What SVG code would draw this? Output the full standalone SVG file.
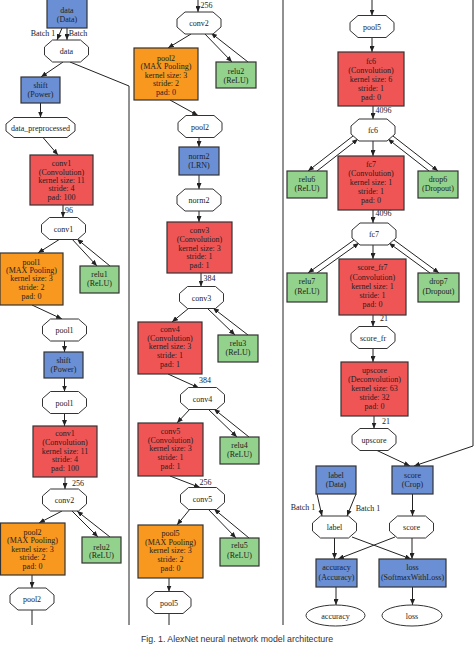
<svg xmlns="http://www.w3.org/2000/svg" xmlns:xlink="http://www.w3.org/1999/xlink" width="474" height="645" viewBox="0 0 474 645">
<style>
.t{font-family:"Liberation Serif","Times New Roman",serif;font-size:8px;fill:#222;text-anchor:middle}
.cap{font-family:"Liberation Sans",Arial,sans-serif;font-size:8.8px;fill:#333;text-anchor:middle}
.box{stroke:#333;stroke-width:1.2}
.conv{fill:#f05555}
.pool{fill:#f8981f}
.relu{fill:#93d28c}
.blue{fill:#6a8fd4}
.blob{fill:#fff;stroke:#333;stroke-width:1}
.e{fill:none;stroke:#222;stroke-width:1}
.a{marker-end:url(#arr)}
</style>
<defs>
<marker id="arr" markerUnits="userSpaceOnUse" markerWidth="6" markerHeight="5" refX="6" refY="2.5" orient="auto"><path d="M0,0 L6,2.5 L0,5 z" fill="#222"/></marker>
<polygon id="oct" points="-14,-11 14,-11 22,-4 22,4 14,11 -14,11 -22,4 -22,-4"/>
</defs>
<rect width="474" height="645" fill="#fff"/>

<g id="connectors">
<line class="e a" x1="62" y1="28" x2="57" y2="40"/>
<line class="e a" x1="67" y1="28" x2="67" y2="40"/>
<text class="t" x="43" y="36">Batch 1</text>
<text class="t" x="78" y="36">Batch</text>
<line class="e a" x1="63" y1="62" x2="41" y2="77"/>
<polyline class="e" points="70,62 129,86 129,625"/>
<line class="e a" x1="40.5" y1="103" x2="40.5" y2="117.5"/>
<line class="e a" x1="43" y1="137.5" x2="58" y2="155"/>
<line class="e a" x1="63" y1="205" x2="63" y2="217.5"/>
<text class="t" x="69" y="213">96</text>
<line class="e a" x1="60" y1="239" x2="38" y2="253"/>
<line class="e a" x1="71" y1="238" x2="97" y2="266"/>
<line class="e a" x1="110" y1="266" x2="77" y2="239"/>
<line class="e a" x1="32" y1="305" x2="62" y2="319"/>
<line class="e a" x1="64.5" y1="341" x2="64.5" y2="352"/>
<line class="e a" x1="64.5" y1="378" x2="64.5" y2="391.5"/>
<line class="e a" x1="64.5" y1="413.5" x2="64.5" y2="426"/>
<line class="e a" x1="65" y1="477" x2="65" y2="489"/>
<text class="t" x="78" y="486">256</text>
<line class="e a" x1="62" y1="511" x2="39" y2="523"/>
<line class="e a" x1="71" y1="510" x2="98" y2="537"/>
<line class="e a" x1="110" y1="537" x2="77" y2="511"/>
<line class="e a" x1="32" y1="575" x2="32" y2="588"/>
<line class="e" x1="32" y1="610" x2="32" y2="625"/>

<line class="e a" x1="198" y1="0" x2="198" y2="12"/>
<text class="t" x="206.5" y="8">256</text>
<line class="e a" x1="191" y1="34" x2="168" y2="48"/>
<line class="e a" x1="204" y1="33" x2="232" y2="62"/>
<line class="e a" x1="248" y1="62" x2="211" y2="33"/>
<line class="e a" x1="170" y1="100" x2="198" y2="115.5"/>
<line class="e a" x1="199" y1="137.5" x2="199" y2="147"/>
<line class="e a" x1="199" y1="175" x2="199" y2="189"/>
<line class="e a" x1="199" y1="211" x2="199" y2="222"/>
<line class="e a" x1="201" y1="273" x2="201" y2="286.5"/>
<text class="t" x="209.5" y="281">384</text>
<line class="e a" x1="189" y1="308" x2="172" y2="322"/>
<line class="e a" x1="207" y1="308" x2="235" y2="335"/>
<line class="e a" x1="248" y1="335" x2="213" y2="308"/>
<line class="e a" x1="168" y1="374" x2="199" y2="388"/>
<text class="t" x="205" y="383">384</text>
<line class="e a" x1="190" y1="409" x2="177" y2="423"/>
<line class="e a" x1="208" y1="409" x2="237" y2="437"/>
<line class="e a" x1="249" y1="437" x2="214" y2="409"/>
<line class="e a" x1="170" y1="476" x2="200" y2="487.5"/>
<text class="t" x="205.5" y="485">256</text>
<line class="e a" x1="190" y1="509" x2="177" y2="525"/>
<line class="e a" x1="208" y1="509" x2="236" y2="538"/>
<line class="e a" x1="249" y1="538" x2="214" y2="509"/>
<line class="e a" x1="169" y1="578" x2="169" y2="591.5"/>
<line class="e" x1="169" y1="613.5" x2="169" y2="625"/>
<line class="e" x1="283" y1="0" x2="283" y2="625"/>

<line class="e a" x1="372" y1="0" x2="372" y2="15.5"/>
<line class="e a" x1="372" y1="37.5" x2="372" y2="52"/>
<line class="e a" x1="373" y1="106" x2="373" y2="119"/>
<text class="t" x="383.5" y="113">4096</text>
<line class="e a" x1="373" y1="141" x2="373" y2="156"/>
<line class="e a" x1="353" y1="136" x2="308" y2="171"/>
<line class="e a" x1="317" y1="171" x2="358" y2="139"/>
<line class="e a" x1="393" y1="136" x2="438" y2="171"/>
<line class="e a" x1="429" y1="171" x2="388" y2="139"/>
<line class="e a" x1="373" y1="210" x2="373" y2="223"/>
<text class="t" x="383.5" y="216">4096</text>
<line class="e a" x1="373" y1="245" x2="373" y2="259"/>
<line class="e a" x1="354" y1="240" x2="308" y2="273"/>
<line class="e a" x1="317" y1="273" x2="359" y2="243"/>
<line class="e a" x1="394" y1="240" x2="439" y2="273"/>
<line class="e a" x1="430" y1="273" x2="389" y2="243"/>
<line class="e a" x1="373" y1="315" x2="373" y2="326.5"/>
<text class="t" x="384" y="321">21</text>
<line class="e a" x1="373" y1="348.5" x2="373" y2="362"/>
<line class="e a" x1="374" y1="416" x2="374" y2="428.5"/>
<text class="t" x="386" y="424">21</text>
<line class="e a" x1="376" y1="450" x2="410" y2="466"/>
<polyline class="e a" points="473,0 473,446 414,466"/>
<line class="e a" x1="317" y1="494" x2="322" y2="516"/>
<line class="e a" x1="356" y1="494" x2="347" y2="516"/>
<text class="t" x="303" y="510">Batch 1</text>
<text class="t" x="368" y="511">Batch 1</text>
<line class="e a" x1="412.5" y1="494" x2="412.5" y2="516"/>
<line class="e a" x1="334.5" y1="538" x2="334.5" y2="559"/>
<line class="e a" x1="352" y1="537" x2="411" y2="559"/>
<line class="e a" x1="395" y1="537" x2="338" y2="559"/>
<line class="e a" x1="412" y1="538" x2="412" y2="559"/>
<line class="e a" x1="336" y1="587" x2="336" y2="605"/>
<line class="e a" x1="412.5" y1="587" x2="412.5" y2="605"/>
</g>

<g id="data_layer"><rect class="box blue" x="47" y="-1" width="40" height="29"/><text class="t" x="67" y="13">data</text><text class="t" x="67" y="22">(Data)</text></g>
<g id="data_blob"><use xlink:href="#oct" class="blob" x="66.5" y="51"/><text class="t" x="66.5" y="54">data</text></g>
<g id="shift1"><rect class="box blue" x="21" y="77" width="39" height="26"/><text class="t" x="40.5" y="88">shift</text><text class="t" x="40.5" y="97">(Power)</text></g>
<g id="data_preprocessed"><polygon class="blob" points="14,117.5 67,117.5 75,124 75,131 67,137.5 14,137.5 6,131 6,124"/><text class="t" x="40.5" y="130.5">data_preprocessed</text></g>
<g id="conv1a"><rect class="box conv" x="30" y="155" width="63" height="50"/><text class="t" x="61.5" y="166">conv1</text><text class="t" x="61.5" y="175">(Convolution)</text><text class="t" x="61.5" y="183">kernel size: 11</text><text class="t" x="61.5" y="191">stride: 4</text><text class="t" x="61.5" y="200">pad: 100</text></g>
<g id="conv1a_blob"><use xlink:href="#oct" class="blob" x="63.5" y="228.5"/><text class="t" x="63.5" y="231.5">conv1</text></g>
<g id="pool1a"><rect class="box pool" x="0" y="253" width="63" height="52"/><text class="t" x="31.5" y="265">pool1</text><text class="t" x="31.5" y="273">(MAX Pooling)</text><text class="t" x="31.5" y="281">kernel size: 3</text><text class="t" x="31.5" y="290">stride: 2</text><text class="t" x="31.5" y="299">pad: 0</text></g>
<g id="relu1"><rect class="box relu" x="80" y="266" width="39" height="27"/><text class="t" x="99.5" y="276.5">relu1</text><text class="t" x="99.5" y="286">(ReLU)</text></g>
<g id="pool1a_blob"><use xlink:href="#oct" class="blob" x="64.5" y="330"/><text class="t" x="64.5" y="333">pool1</text></g>
<g id="shift2"><rect class="box blue" x="44" y="352" width="39" height="26"/><text class="t" x="63.5" y="363">shift</text><text class="t" x="63.5" y="372">(Power)</text></g>
<g id="pool1b_blob"><use xlink:href="#oct" class="blob" x="64.5" y="402.5"/><text class="t" x="64.5" y="405.5">pool1</text></g>
<g id="conv1b"><rect class="box conv" x="33" y="426" width="64" height="51"/><text class="t" x="65" y="436">conv1</text><text class="t" x="65" y="445">(Convolution)</text><text class="t" x="65" y="454">kernel size: 11</text><text class="t" x="65" y="462">stride: 4</text><text class="t" x="65" y="471">pad: 100</text></g>
<g id="conv2a_blob"><use xlink:href="#oct" class="blob" x="64.5" y="500"/><text class="t" x="64.5" y="503">conv2</text></g>
<g id="pool2a"><rect class="box pool" x="0.5" y="523" width="64.5" height="52"/><text class="t" x="32.5" y="535">pool2</text><text class="t" x="32.5" y="543">(MAX Pooling)</text><text class="t" x="32.5" y="552">kernel size: 3</text><text class="t" x="32.5" y="560">stride: 2</text><text class="t" x="32.5" y="569">pad: 0</text></g>
<g id="relu2a"><rect class="box relu" x="82" y="537" width="39" height="26"/><text class="t" x="101.5" y="550">relu2</text><text class="t" x="101.5" y="558">(ReLU)</text></g>
<g id="pool2a_blob"><use xlink:href="#oct" class="blob" x="32" y="599"/><text class="t" x="32" y="602">pool2</text></g>

<g id="conv2b_blob"><use xlink:href="#oct" class="blob" x="199" y="23"/><text class="t" x="199" y="26">conv2</text></g>
<g id="pool2b"><rect class="box pool" x="134" y="48" width="64" height="52"/><text class="t" x="166" y="61">pool2</text><text class="t" x="166" y="69">(MAX Pooling)</text><text class="t" x="166" y="78">kernel size: 3</text><text class="t" x="166" y="86">stride: 2</text><text class="t" x="166" y="95">pad: 0</text></g>
<g id="relu2b"><rect class="box relu" x="216" y="62" width="40" height="26"/><text class="t" x="236" y="74">relu2</text><text class="t" x="236" y="83">(ReLU)</text></g>
<g id="pool2b_blob"><use xlink:href="#oct" class="blob" x="200" y="126.5"/><text class="t" x="200" y="129.5">pool2</text></g>
<g id="norm2"><rect class="box blue" x="179" y="147" width="40" height="28"/><text class="t" x="199" y="159">norm2</text><text class="t" x="199" y="168">(LRN)</text></g>
<g id="norm2_blob"><use xlink:href="#oct" class="blob" x="199" y="200"/><text class="t" x="199" y="203">norm2</text></g>
<g id="conv3"><rect class="box conv" x="167" y="222" width="65" height="51"/><text class="t" x="199.5" y="233">conv3</text><text class="t" x="199.5" y="242">(Convolution)</text><text class="t" x="199.5" y="251">kernel size: 3</text><text class="t" x="199.5" y="259">stride: 1</text><text class="t" x="199.5" y="268">pad: 1</text></g>
<g id="conv3_blob"><use xlink:href="#oct" class="blob" x="201.5" y="297.5"/><text class="t" x="201.5" y="300.5">conv3</text></g>
<g id="relu3"><rect class="box relu" x="218" y="335" width="40" height="27"/><text class="t" x="238" y="346">relu3</text><text class="t" x="238" y="355">(ReLU)</text></g>
<g id="conv4"><rect class="box conv" x="138" y="322" width="64" height="52"/><text class="t" x="170" y="332">conv4</text><text class="t" x="170" y="341">(Convolution)</text><text class="t" x="170" y="349">kernel size: 3</text><text class="t" x="170" y="358">stride: 1</text><text class="t" x="170" y="367">pad: 1</text></g>
<g id="conv4_blob"><use xlink:href="#oct" class="blob" x="202.5" y="398.5"/><text class="t" x="202.5" y="401.5">conv4</text></g>
<g id="relu4"><rect class="box relu" x="220" y="437" width="39" height="27"/><text class="t" x="239.5" y="448">relu4</text><text class="t" x="239.5" y="457">(ReLU)</text></g>
<g id="conv5"><rect class="box conv" x="138" y="423" width="65" height="53"/><text class="t" x="170.5" y="434">conv5</text><text class="t" x="170.5" y="443">(Convolution)</text><text class="t" x="170.5" y="451">kernel size: 3</text><text class="t" x="170.5" y="460">stride: 1</text><text class="t" x="170.5" y="469">pad: 1</text></g>
<g id="conv5_blob"><use xlink:href="#oct" class="blob" x="202.5" y="498.5"/><text class="t" x="202.5" y="501.5">conv5</text></g>
<g id="relu5"><rect class="box relu" x="220" y="538" width="39" height="28"/><text class="t" x="239.5" y="548">relu5</text><text class="t" x="239.5" y="558">(ReLU)</text></g>
<g id="pool5"><rect class="box pool" x="138" y="525" width="65" height="53"/><text class="t" x="170.5" y="536">pool5</text><text class="t" x="170.5" y="545">(MAX Pooling)</text><text class="t" x="170.5" y="553">kernel size: 3</text><text class="t" x="170.5" y="562">stride: 2</text><text class="t" x="170.5" y="571">pad: 0</text></g>
<g id="pool5a_blob"><use xlink:href="#oct" class="blob" x="169" y="602.5"/><text class="t" x="169" y="605.5">pool5</text></g>

<g id="pool5b_blob"><use xlink:href="#oct" class="blob" x="372" y="26.5"/><text class="t" x="372" y="29.5">pool5</text></g>
<g id="fc6"><rect class="box conv" x="338" y="52" width="66" height="54"/><text class="t" x="371" y="64">fc6</text><text class="t" x="371" y="73">(Convolution)</text><text class="t" x="371" y="82">kernel size: 6</text><text class="t" x="371" y="91">stride: 1</text><text class="t" x="371" y="100">pad: 0</text></g>
<g id="fc6_blob"><use xlink:href="#oct" class="blob" x="373" y="130"/><text class="t" x="373" y="133">fc6</text></g>
<g id="relu6"><rect class="box relu" x="287" y="171" width="40" height="27"/><text class="t" x="307" y="182">relu6</text><text class="t" x="307" y="191">(ReLU)</text></g>
<g id="drop6"><rect class="box relu" x="418" y="171" width="40" height="27"/><text class="t" x="438" y="182">drop6</text><text class="t" x="438" y="191">(Dropout)</text></g>
<g id="fc7"><rect class="box conv" x="338" y="156" width="66" height="54"/><text class="t" x="371" y="167">fc7</text><text class="t" x="371" y="176">(Convolution)</text><text class="t" x="371" y="185">kernel size: 1</text><text class="t" x="371" y="194">stride: 1</text><text class="t" x="371" y="203">pad: 0</text></g>
<g id="fc7_blob"><use xlink:href="#oct" class="blob" x="374" y="234"/><text class="t" x="374" y="237">fc7</text></g>
<g id="relu7"><rect class="box relu" x="287" y="273" width="40" height="29"/><text class="t" x="307" y="284">relu7</text><text class="t" x="307" y="294">(ReLU)</text></g>
<g id="drop7"><rect class="box relu" x="418" y="273" width="41" height="29"/><text class="t" x="438.5" y="284">drop7</text><text class="t" x="438.5" y="294">(Dropout)</text></g>
<g id="score_fr7"><rect class="box conv" x="339" y="259" width="67" height="56"/><text class="t" x="372.5" y="270">score_fr7</text><text class="t" x="372.5" y="280">(Convolution)</text><text class="t" x="372.5" y="289">kernel size: 1</text><text class="t" x="372.5" y="298">stride: 1</text><text class="t" x="372.5" y="307">pad: 0</text></g>
<g id="score_fr_blob"><use xlink:href="#oct" class="blob" x="373" y="337.5"/><text class="t" x="373" y="340.5">score_fr</text></g>
<g id="upscore"><rect class="box conv" x="341" y="362" width="67" height="54"/><text class="t" x="374.5" y="373">upscore</text><text class="t" x="374.5" y="382">(Deconvolution)</text><text class="t" x="374.5" y="391">kernel size: 63</text><text class="t" x="374.5" y="400">stride: 32</text><text class="t" x="374.5" y="409">pad: 0</text></g>
<g id="upscore_blob"><use xlink:href="#oct" class="blob" x="374" y="439.5"/><text class="t" x="374" y="442.5">upscore</text></g>
<g id="label_layer"><rect class="box blue" x="316" y="466" width="40" height="28"/><text class="t" x="336" y="478">label</text><text class="t" x="336" y="487">(Data)</text></g>
<g id="score_layer"><rect class="box blue" x="392" y="466" width="41" height="28"/><text class="t" x="412.5" y="478">score</text><text class="t" x="412.5" y="487">(Crop)</text></g>
<g id="label_blob"><use xlink:href="#oct" class="blob" x="334.5" y="527"/><text class="t" x="334.5" y="530">label</text></g>
<g id="score_blob"><use xlink:href="#oct" class="blob" x="411.5" y="527"/><text class="t" x="411.5" y="530">score</text></g>
<g id="accuracy_layer"><rect class="box blue" x="316" y="559" width="41" height="28"/><text class="t" x="336.5" y="570">accuracy</text><text class="t" x="336.5" y="580">(Accuracy)</text></g>
<g id="loss_layer"><rect class="box blue" x="379" y="559" width="67" height="28"/><text class="t" x="412.5" y="570">loss</text><text class="t" x="412.5" y="580">(SoftmaxWithLoss)</text></g>
<g id="accuracy_out"><ellipse class="blob" cx="335.5" cy="615.5" rx="29.5" ry="10.5"/><text class="t" x="335.5" y="618.5">accuracy</text></g>
<g id="loss_out"><ellipse class="blob" cx="412" cy="615.5" rx="30" ry="10.5"/><text class="t" x="412" y="618.5">loss</text></g>

<text class="cap" x="237" y="642">Fig. 1. AlexNet neural network model architecture</text>
</svg>
